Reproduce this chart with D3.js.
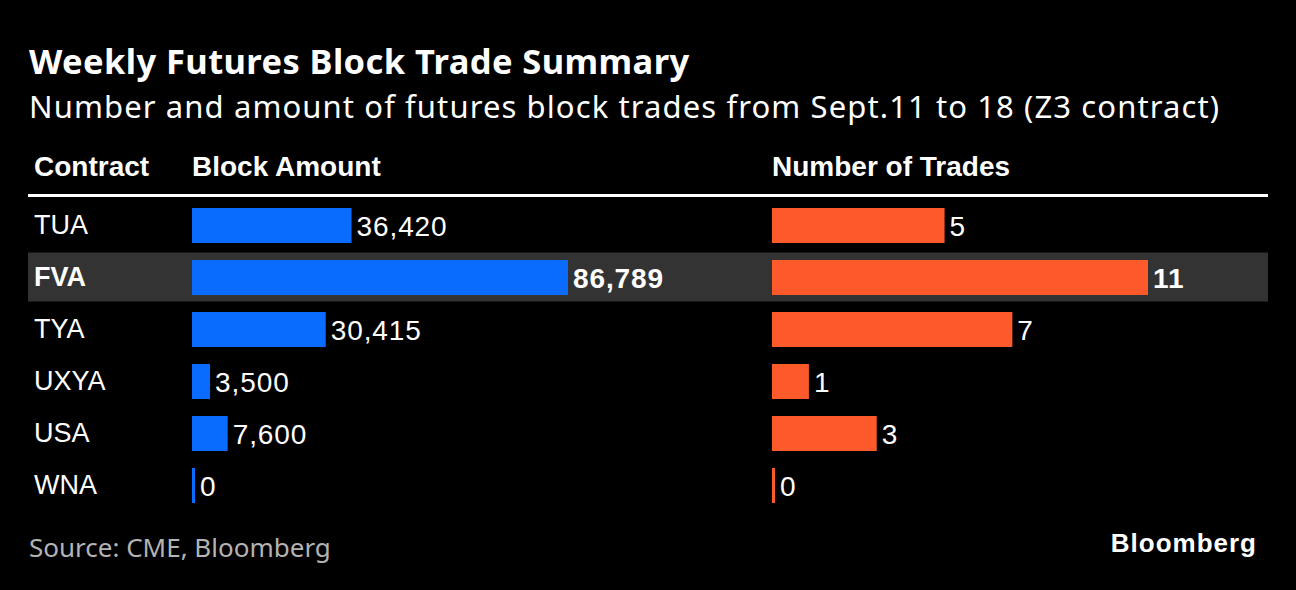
<!DOCTYPE html>
<html>
<head>
<meta charset="utf-8">
<script src="https://cdn.jsdelivr.net/npm/d3@7"></script>
<style>
  html, body { margin: 0; padding: 0; background: #000; }
  svg { display: block; }
</style>
</head>
<body>
<div id="chart"></div>
<script>
// data
const contracts = ['TUA', 'FVA', 'TYA', 'UXYA', 'USA', 'WNA'];
const blockAmount = [36420, 86789, 30415, 3500, 7600, 0];
const numTrades = [5, 11, 7, 1, 3, 0];
const highlighted = 'FVA';

const W = 1296, H = 590;
const blue = '#0a6cff', orange = '#fc5a2b';
const headFont = '"Liberation Sans", Arial, sans-serif';
const titleFont = '"Noto Sans", sans-serif';

const svg = d3.select('#chart').append('svg')
  .attr('width', W).attr('height', H);

svg.append('rect').attr('width', W).attr('height', H).attr('fill', '#000');

// title + subtitle
svg.append('text')
  .attr('x', 29).attr('y', 74)
  .attr('font-family', titleFont).attr('font-weight', 700)
  .attr('font-size', 34.5).attr('fill', '#fff')
  .attr('letter-spacing', 0.4)
  .text('Weekly Futures Block Trade Summary');

svg.append('text')
  .attr('x', 29).attr('y', 117.5)
  .attr('font-family', titleFont)
  .attr('font-size', 31).attr('fill', '#fff')
  .attr('letter-spacing', 1.1)
  .text('Number and amount of futures block trades from Sept.11 to 18 (Z3 contract)');

// scales
const y = d3.scaleBand()
  .domain(contracts)
  .range([199.5, 199.5 + 52 * contracts.length])
  .paddingInner(17 / 52)
  .paddingOuter(17 / 104);

// bars start at x0, zero sits 3px in so empty values still show a stub
const amtX0 = 192, numX0 = 772;
const xAmt = d3.scaleLinear().domain([0, d3.max(blockAmount)]).range([amtX0 + 3, 568]);
const xNum = d3.scaleLinear().domain([0, d3.max(numTrades)]).range([numX0 + 3, 1148]);

const rows = contracts.map((c, i) => ({ c, amt: blockAmount[i], n: numTrades[i] }));

// highlight band
svg.append('rect')
  .attr('x', 28).attr('width', 1240)
  .attr('y', y(highlighted) - y.step() * y.paddingInner() / 2 + 1)
  .attr('height', y.step() - 3)
  .attr('fill', '#333333');

// header
const head = svg.append('g')
  .attr('font-family', headFont).attr('font-weight', 700)
  .attr('font-size', 28).attr('fill', '#fff');
head.append('text').attr('x', 34).attr('y', 176).text('Contract');
head.append('text').attr('x', 192).attr('y', 176).text('Block Amount');
head.append('text').attr('x', 772).attr('y', 176).text('Number of Trades');

svg.append('rect')
  .attr('x', 28).attr('y', 194).attr('width', 1240).attr('height', 3)
  .attr('fill', '#fff');

// row labels
svg.append('g').selectAll('text')
  .data(rows).join('text')
  .attr('x', 34)
  .attr('y', d => y(d.c) + y.bandwidth() / 2)
  .attr('dy', '0.3em')
  .attr('font-family', headFont)
  .attr('font-size', 27)
  .attr('font-weight', d => d.c === highlighted ? 700 : 400)
  .attr('fill', '#fff')
  .text(d => d.c);

function drawBars(x, x0, key, color) {
  const g = svg.append('g');
  g.selectAll('rect')
    .data(rows).join('rect')
    .attr('x', x0)
    .attr('y', d => y(d.c))
    .attr('height', y.bandwidth())
    .attr('width', d => x(d[key]) - x0)
    .attr('fill', color);
  g.selectAll('text')
    .data(rows).join('text')
    .attr('x', d => x(d[key]) + 5)
    .attr('y', d => y(d.c) + y.bandwidth() / 2)
    .attr('dy', '0.36em')
    .attr('font-family', headFont)
    .attr('font-size', 28)
    .attr('letter-spacing', 0.9)
    .attr('font-weight', d => d.c === highlighted ? 700 : 400)
    .attr('fill', '#fff')
    .text(d => d3.format(',')(d[key]));
}
drawBars(xAmt, amtX0, 'amt', blue);
drawBars(xNum, numX0, 'n', orange);

// footer
svg.append('text')
  .attr('x', 29).attr('y', 557)
  .attr('font-family', titleFont)
  .attr('font-size', 26).attr('fill', '#b3b3b3')
  .text('Source: CME, Bloomberg');

svg.append('text')
  .attr('x', 1257).attr('y', 552)
  .attr('text-anchor', 'end')
  .attr('font-family', headFont).attr('font-weight', 700)
  .attr('font-size', 26).attr('fill', '#fff')
  .attr('letter-spacing', 1)
  .text('Bloomberg');
</script>
</body>
</html>
